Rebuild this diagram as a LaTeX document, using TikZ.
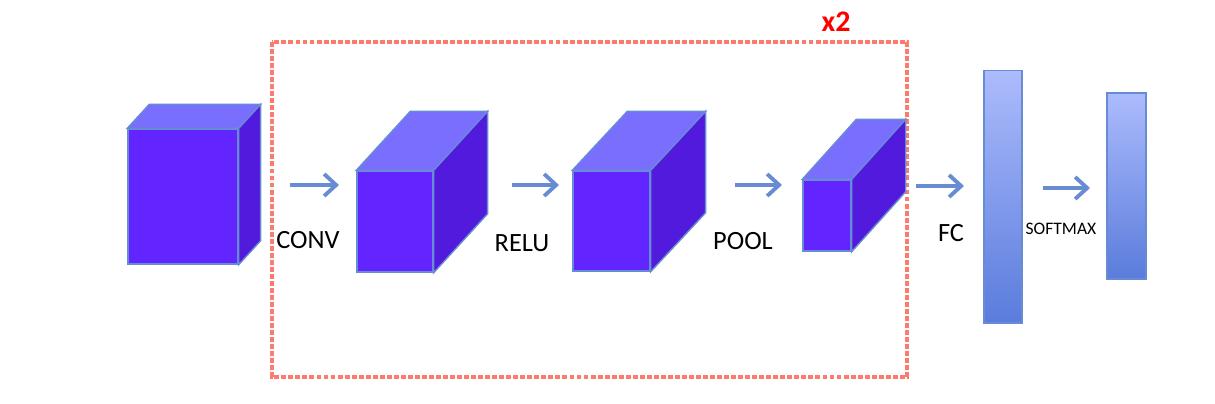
\documentclass[tikz,border=0pt]{standalone}
\usepackage{fontspec}
\setmainfont{Carlito}
\usetikzlibrary{calc,arrows.meta}
\definecolor{frontc}{RGB}{98,36,255}
\definecolor{topc}{RGB}{122,110,255}
\definecolor{sidec}{RGB}{82,26,220}
\definecolor{edgec}{RGB}{104,140,212}
\definecolor{bartop}{RGB}{172,187,252}
\definecolor{barbot}{RGB}{90,124,220}
\definecolor{dashc}{RGB}{255,122,110}
\tikzset{face/.style={rectangle,fill=frontc,draw=edgec,line width=0.8pt,inner sep=0pt}}
\tikzset{bar/.style={rectangle,top color=bartop,bottom color=barbot,draw=edgec,line width=0.6pt,inner sep=0pt}}
\tikzset{arr/.style={draw=edgec,line width=2.2pt,-{Straight Barb[length=2.4mm,width=4.4mm,line width=2.2pt]}}}
\tikzset{lbl/.style={font=\fontsize{15}{18}\selectfont}}
% top and side of a block: node, depth dx, dy
\newcommand{\blockfaces}[3]{
\filldraw[fill=topc,draw=edgec,line width=0.8pt] (#1.north west) -- ++(#2,#3) -- ($(#1.north east)+(#2,#3)$) -- (#1.north east) -- cycle;
\filldraw[fill=sidec,draw=edgec,line width=0.8pt] (#1.north east) -- ++(#2,#3) -- ($(#1.south east)+(#2,#3)$) -- (#1.south east) -- cycle;
}

\begin{document}
\begin{tikzpicture}[x=0.02cm,y=-0.02cm]
\useasboundingbox (0,0) rectangle (1215,403);

% repeated part
\draw[dashc,line width=1.8pt,dash pattern=on 2.8pt off 1.2pt] (272,42) rectangle (907,377);
\node[text=red,font=\fontsize{17}{20}\selectfont\bfseries](times) at (836,22) {x2};

\node[face,minimum width=2.2cm,minimum height=2.7cm](input) at (183,196.5) {};
\blockfaces{input}{22}{-24}
\node[face,minimum width=1.52cm,minimum height=2.02cm](conv) at (395,221.5) {};
\blockfaces{conv}{54}{-59}
\node[face,minimum width=1.54cm,minimum height=2.0cm](relu) at (611.5,221) {};
\blockfaces{relu}{55}{-59}
\node[face,minimum width=0.96cm,minimum height=1.42cm](pool) at (827,215.5) {};
\blockfaces{pool}{54}{-60}

\node[bar,minimum width=0.76cm,minimum height=5.06cm](fc) at (1003,196.5) {};
\node[bar,minimum width=0.78cm,minimum height=3.72cm](soft) at (1126.5,186) {};

\node[lbl](convlbl) at (308,240) {CONV};
\node[lbl](relulbl) at (522,243) {RELU};
\node[lbl](poollbl) at (743,241) {POOL};
\node[lbl](fclbl) at (951,233) {FC};
\node[font=\fontsize{10}{12}\selectfont](softlbl) at (1061,229) {SOFTMAX};

\coordinate (a1) at (290,185);
\coordinate (b1) at (339,185);
\coordinate (a2) at (512,185);
\coordinate (b2) at (559,185);
\coordinate (a3) at (735,185);
\coordinate (b3) at (782,185);
\coordinate (a4) at (916,186);
\coordinate (b4) at (964,186);
\coordinate (a5) at (1043,188);
\coordinate (b5) at (1090,188);
\draw[arr] (a1) -- (b1);
\draw[arr] (a2) -- (b2);
\draw[arr] (a3) -- (b3);
\draw[arr] (a4) -- (b4);
\draw[arr] (a5) -- (b5);

\end{tikzpicture}
\end{document}
